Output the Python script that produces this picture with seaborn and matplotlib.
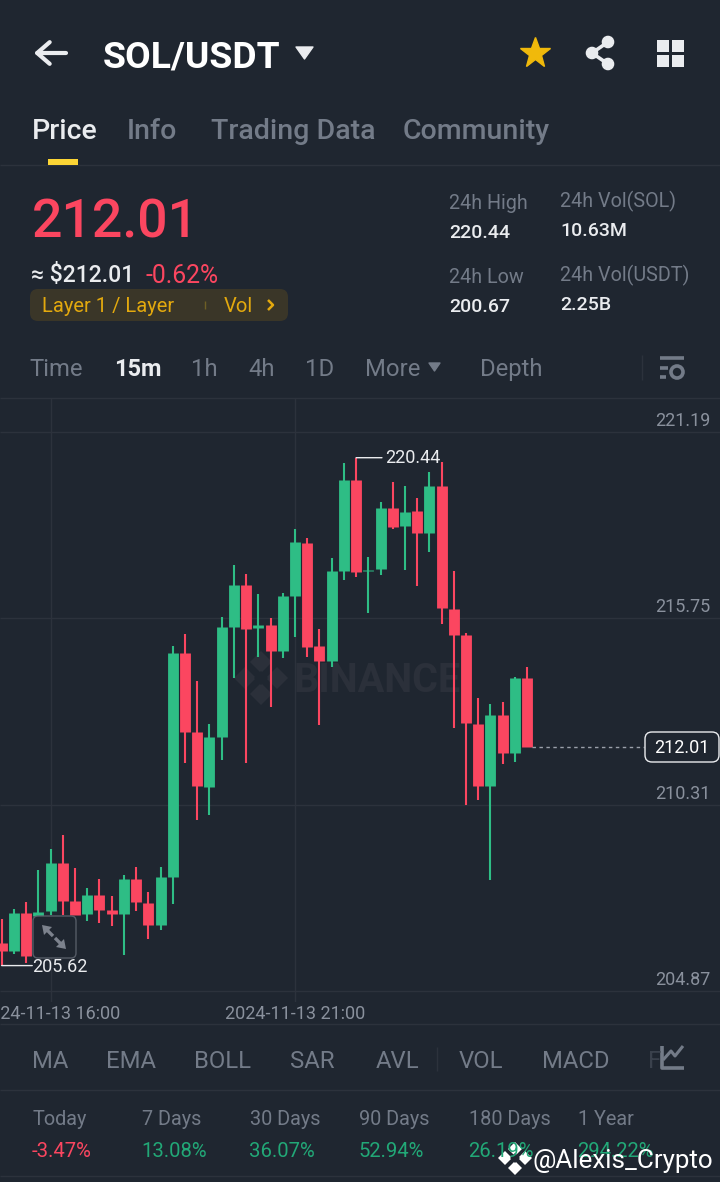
import numpy as np
import pandas as pd
import seaborn as sns
import matplotlib.pyplot as plt
from matplotlib.patches import FancyBboxPatch, Polygon, Rectangle, Circle
from matplotlib.transforms import ScaledTranslation

# ── Data ───────────────────────────────────────────────────────────────────────

OPENS = [206.27, 206.04, 207.15, 207.07, 207.22, 208.62, 207.51, 207.12, 207.68, 207.24, 207.13,
         208.15, 207.45, 206.81, 208.20, 214.73, 212.43, 210.83, 212.30, 215.51, 216.73, 215.48,
         215.55, 214.81, 216.40, 217.96, 214.94, 214.52, 217.14, 219.80, 217.13, 217.18, 218.97,
         218.44, 218.88, 218.25, 219.61, 216.02, 215.28, 212.68, 210.87, 212.92, 211.81, 214.01]
CLOSES = [206.05, 207.15, 205.91, 207.19, 208.62, 207.51, 207.10, 207.68, 207.25, 207.13, 208.15,
          207.47, 206.80, 208.20, 214.73, 212.43, 210.85, 212.28, 215.51, 216.72, 215.45, 215.55,
          214.81, 216.40, 217.97, 214.93, 214.52, 217.13, 219.80, 217.10, 217.17, 218.97, 218.42,
          218.86, 218.25, 219.61, 216.05, 215.28, 212.70, 210.87, 212.92, 211.81, 214.01, 212.01]
HIGHS = [206.97, 207.26, 207.48, 208.42, 209.03, 209.43, 208.46, 207.88, 208.15, 207.66, 208.25,
         208.50, 207.76, 208.50, 214.95, 215.30, 213.92, 212.68, 215.80, 217.30, 217.05, 216.46,
         215.77, 216.50, 218.35, 218.10, 215.44, 217.51, 220.29, 220.44, 217.53, 219.16, 219.74,
         219.61, 219.26, 220.01, 220.31, 217.14, 215.33, 213.42, 213.26, 213.31, 214.04, 214.33]
LOWS = [205.62, 205.96, 205.69, 207.04, 207.10, 207.10, 207.09, 206.93, 206.85, 206.78, 205.93,
        207.22, 206.40, 206.65, 207.43, 211.53, 209.86, 210.01, 211.62, 214.00, 211.54, 214.62,
        213.17, 214.60, 215.22, 214.63, 212.63, 214.34, 216.88, 216.97, 215.90, 217.01, 218.36,
        217.17, 216.71, 217.69, 215.60, 212.54, 210.30, 210.44, 208.11, 211.49, 211.55, 212.01]

PRICE_TICKS = [221.19, 215.75, 210.31, 204.87]
TIME_LABELS = ["2024-11-13 16:00", "2024-11-13 21:00"]
TIME_CANDLES = [4, 24]
LAST_PRICE = 212.01
DAY_HIGH = 220.44
DAY_LOW = 205.62

TABS = ["Price", "Info", "Trading Data", "Community"]
INTERVALS = ["Time", "15m", "1h", "4h", "1D", "More", "Depth"]
INDICATORS = ["MA", "EMA", "BOLL", "SAR", "AVL", "VOL", "MACD", "F"]
PERIODS = ["Today", "7 Days", "30 Days", "90 Days", "180 Days", "1 Year"]
PERIOD_CHANGES = ["-3.47%", "13.08%", "36.07%", "52.94%", "26.19%", "294.22%"]

# ── Style ──────────────────────────────────────────────────────────────────────

BG = "#1f2630"
GRID = "#2c323c"
GREY = "#737b88"
LIGHT = "#eaecef"
WHITE = "#ffffff"
UP = "#2ebd85"
DOWN = "#fb4660"
GOLD = "#e3a90e"

sns.set_theme(style="dark", rc={
    "figure.facecolor": BG,
    "axes.facecolor": BG,
    "lines.solid_capstyle": "butt",
    "axes.grid": False,
})
plt.rcParams["font.family"] = ["Roboto", "DejaVu Sans"]

W, H = 720, 1182
fig = plt.figure(figsize=(W / 100, H / 100), dpi=100)

back = fig.add_axes([0, 0, 1, 1], zorder=0)
ui = fig.add_axes([0, 0, 1, 1], zorder=3)
for a in (back, ui):
    a.set_xlim(0, W)
    a.set_ylim(H, 0)
    a.axis("off")
ui.patch.set_alpha(0)

# ── Candles ────────────────────────────────────────────────────────────────────

CHART_TOP, CHART_BOTTOM = 398, 1002
PX_PER_UNIT = 34.27
PX_PER_CANDLE = 12.22
X0 = 1.7


def y_to_price(y):
    return PRICE_TICKS[0] - (y - 432) / PX_PER_UNIT


ax = fig.add_axes([0, 1 - CHART_BOTTOM / H, 1, (CHART_BOTTOM - CHART_TOP) / H], zorder=1)
ax.patch.set_alpha(0)

idx = np.arange(len(OPENS))
direction = ["up" if c >= o else "down" for o, c in zip(OPENS, CLOSES)]
candles = pd.DataFrame({"idx": idx, "open": OPENS, "close": CLOSES, "high": HIGHS,
                        "low": LOWS, "direction": direction})
wicks = candles.melt(id_vars=["idx", "direction"], value_vars=["high", "low"], value_name="price")
bodies = candles.melt(id_vars=["idx", "direction"], value_vars=["open", "close"], value_name="price")
palette = {"up": UP, "down": DOWN}

sns.lineplot(data=wicks, x="idx", y="price", hue="direction", units="idx", estimator=None,
             palette=palette, linewidth=1.5, legend=False, sort=False, ax=ax)
sns.lineplot(data=bodies, x="idx", y="price", hue="direction", units="idx", estimator=None,
             palette=palette, linewidth=7.8, legend=False, sort=False, ax=ax)

ax.set_xlim(-X0 / PX_PER_CANDLE, (W - X0) / PX_PER_CANDLE)
ax.set_ylim(y_to_price(CHART_BOTTOM), y_to_price(CHART_TOP))
ax.set_xlabel("")
ax.set_ylabel("")
for side in ax.spines.values():
    side.set_visible(False)

ax.yaxis.tick_right()
ax.set_yticks(PRICE_TICKS)
ax.set_yticklabels([f"{p:.2f}" for p in PRICE_TICKS])
ax.set_xticks(TIME_CANDLES)
ax.set_xticklabels(TIME_LABELS)
ax.grid(True, color=GRID, linewidth=1)
ax.set_axisbelow(True)
ax.tick_params(axis="y", length=0, pad=-7.2, labelsize=13, labelcolor="#8a919d")
ax.tick_params(axis="x", length=0, pad=2.5, labelsize=13, labelcolor="#8a919d")
lift = ScaledTranslation(0, 1.4 / 72, fig.dpi_scale_trans)
for label in ax.get_yticklabels():
    label.set_ha("right")
    label.set_va("bottom")
    label.set_transform(label.get_transform() + lift)

# high / low callouts and the last price line
ax.annotate(f"{DAY_HIGH:.2f}", xy=(29, DAY_HIGH), xytext=(21, 0), textcoords="offset points",
            color=LIGHT, fontsize=13, va="center",
            arrowprops=dict(arrowstyle="-", color=LIGHT, lw=1, shrinkA=0, shrinkB=0))
ax.annotate("", xy=(0, DAY_LOW), xytext=(22, 0), textcoords="offset points",
            arrowprops=dict(arrowstyle="-", color=LIGHT, lw=1, shrinkA=0, shrinkB=0))
ax.plot([43.4, 52.6], [LAST_PRICE, LAST_PRICE], color="#9aa0aa", lw=1, ls=(0, (2.5, 2.5)))

# ── Screen furniture ───────────────────────────────────────────────────────────


def txt(x, y, s, color=GREY, size=14, weight="normal", target=None, **kw):
    # y is the middle of the capitals, in screen pixels
    base = y + 0.355 * size / 0.72
    (target or ui).text(x, base, s, color=color, fontsize=size, fontweight=weight, va="baseline", **kw)


def rule(y, x0=0, x1=W):
    back.plot([x0, x1], [y, y], color=GRID, lw=1)


def tri(x0, x1, y0, y1, color):
    ui.add_patch(Polygon([(x0, y0), (x1, y0), ((x0 + x1) / 2, y1)], closed=True, fc=color, ec=color,
                         lw=1, joinstyle="round"))


for y in (165, 398, 1024, 1090, 1176):
    rule(y)

# header
ui.annotate("", xy=(34, 53), xytext=(66, 53),
            arrowprops=dict(arrowstyle="->,head_length=0.75,head_width=0.65", color=LIGHT, lw=3,
                            shrinkA=0, shrinkB=0))
txt(103, 54, "SOL/USDT", WHITE, 26.8, "bold")
tri(296, 313, 47, 59, LIGHT)
ui.plot([535], [53], marker="*", ms=23, color="#f0b90b", mec="#f0b90b", lw=0)
share = [(608, 42), (592, 53), (608, 64)]
ui.plot(*zip(*share), color=LIGHT, lw=2.6)
for c in share:
    ui.add_patch(Circle(c, 5.6, color=LIGHT))
for x0, y0 in [(657, 40), (672, 40), (657, 55), (672, 55)]:
    ui.add_patch(Rectangle((x0, y0), 12, 12, color=LIGHT, lw=0))

# tabs
for x, s in zip([32, 127, 211, 403], TABS):
    txt(x, 129, s, LIGHT if s == "Price" else GREY, 20.5, "medium")
ui.add_patch(Rectangle((48, 159), 30, 6, color="#fcd535", lw=0))

# price block
txt(32, 219, "212.01", DOWN, 38.5, "medium")
txt(31, 274, "≈ $212.01", LIGHT, 16.5, "medium")
txt(146, 274, "-0.62%", DOWN, 17.8)
ui.add_patch(FancyBboxPatch((30, 289), 258, 32, boxstyle="round,pad=0,rounding_size=8",
                            fc="#3a3628", lw=0))
txt(42, 305, "Layer 1 / Layer", GOLD, 14.5)
ui.plot([205, 205], [301, 309], color="#6e5f25", lw=1)
txt(224, 305, "Vol", GOLD, 14.5)
ui.plot([268, 273, 268], [300, 305, 310], color=GOLD, lw=1.8)

for x, y, head, value in [(449, 202, "24h High", "220.44"), (449, 276, "24h Low", "200.67"),
                          (560, 200, "24h Vol(SOL)", "10.63M"), (560, 274, "24h Vol(USDT)", "2.25B")]:
    txt(x, y, head, GREY, 14.2)
    txt(x, y + 29, value, LIGHT, 14, "medium")

# interval row
for x, s in zip([29, 114, 191, 248, 305, 365, 480], INTERVALS):
    if s == "15m":
        txt(x, 368, s, LIGHT, 17, "bold")
    else:
        txt(x, 368, s, GREY, 17.2)
tri(429, 440, 363, 371, GREY)
ui.plot([642, 642], [355, 380], color=GRID, lw=1)
ui.plot([660, 684], [358, 358], color=GREY, lw=2.6)
ui.plot([660, 668], [368, 368], color=GREY, lw=2.6)
ui.plot([660, 666], [377, 377], color=GREY, lw=2.6)
ui.add_patch(Circle((677, 372), 6, fc=BG, ec=GREY, lw=2.6))

# watermark behind the candles
for cx, cy in [(261, 662), (261, 694), (245, 678), (277, 678)]:
    back.add_patch(Polygon([(cx - 11, cy), (cx, cy - 11), (cx + 11, cy), (cx, cy + 11)], closed=True,
                           fc="#2b303a", lw=0))
back.add_patch(Polygon([(254, 678), (261, 671), (268, 678), (261, 685)], closed=True, fc=BG, lw=0))
txt(294, 678, "BINANCE", "#2b303a", 28.5, "bold", target=back)

# expand button over the candles
ui.add_patch(FancyBboxPatch((33, 916), 43, 42, boxstyle="round,pad=0,rounding_size=5", fc=BG, ec="#5a606b",
                            lw=1, alpha=0.92))
EXPAND = "#7c828d"
ui.add_patch(Polygon([(42, 925), (52, 927), (44, 935)], closed=True, fc=EXPAND, lw=0))
ui.add_patch(Polygon([(66, 949), (56, 947), (64, 939)], closed=True, fc=EXPAND, lw=0))
ui.plot([47, 53], [930, 936], color=EXPAND, lw=2.4)
ui.plot([55, 61], [938, 944], color=EXPAND, lw=2.4)
txt(32, 966, f"{DAY_LOW:.2f}", LIGHT, 13)

# last price tag
ui.add_patch(FancyBboxPatch((645, 732), 74, 30, boxstyle="round,pad=0,rounding_size=7", fc=BG, ec=LIGHT, lw=1))
txt(682, 747, f"{LAST_PRICE:.2f}", WHITE, 13, ha="center")

# indicator row
for x, s in zip([32, 106, 194, 290, 376, 459, 542, 648], INDICATORS):
    txt(x, 1060, s, "#3a414c" if s == "F" else GREY, 17.2)
ui.plot([437, 437], [1047, 1071], color=GRID, lw=1)
ui.plot([662, 662, 684], [1046, 1068, 1068], color=GREY, lw=2.6)
ui.plot([663, 671, 675, 683], [1060, 1051, 1056, 1046], color=GREY, lw=2.2)

# period returns
for x, head, value in zip([33, 142, 250, 359, 469, 578], PERIODS, PERIOD_CHANGES):
    txt(x, 1118, head, GREY, 14.3)
    txt(x - 1, 1150, value, DOWN if value.startswith("-") else "#22a877", 14.6)

# account watermark
for cx, cy in [(515, 1149), (515, 1168), (505, 1158), (525, 1158)]:
    ui.add_patch(Polygon([(cx - 7, cy), (cx, cy - 7), (cx + 7, cy), (cx, cy + 7)], closed=True, fc=WHITE, lw=0))
ui.add_patch(Polygon([(510, 1158), (515, 1153), (520, 1158), (515, 1163)], closed=True, fc=BG, lw=0))
txt(532, 1159, "@Alexis_Crypto", WHITE, 18.7)

fig.savefig("out.png", dpi=100, facecolor=BG)
